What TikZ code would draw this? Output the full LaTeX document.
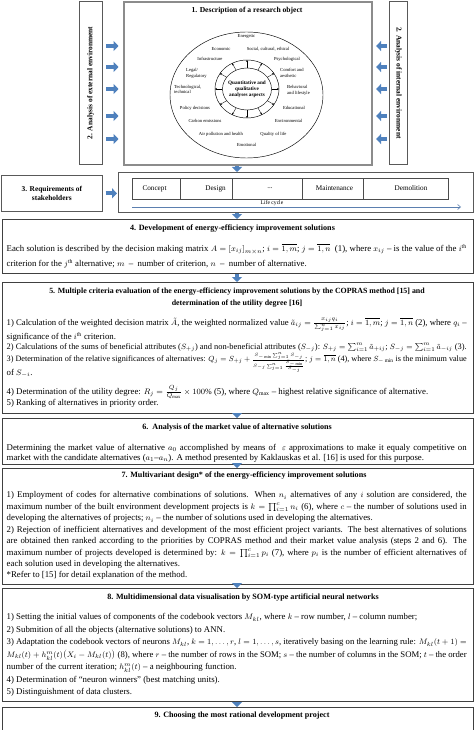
\documentclass[tikz,border=0pt]{standalone}
\usepackage{amsmath}
\usepackage{graphicx}
\usepackage{fontspec}
\setmainfont{Liberation Serif}
\usetikzlibrary{shapes.geometric,arrows.meta,calc}
\definecolor{arrowblue}{HTML}{4F81BD}
\definecolor{lifeblue}{HTML}{5B7FAF}
\definecolor{framegray}{HTML}{8C8C8C}
\DeclareMathSizes{8.8}{8}{5.8}{4.6}
\newcommand{\ttlfont}{\fontsize{8.1}{9}\selectfont\bfseries}
\newcommand{\sidefont}{\fontsize{7.4}{8.5}\selectfont\bfseries}
\newcommand{\bodyfont}{\fontsize{8.8}{9.5}\selectfont}
\newcommand{\aspfont}{\fontsize{4.6}{5.4}\selectfont}
\newsavebox{\fitbox}
\newcommand{\fitline}[1]{\sbox{\fitbox}{#1}\ifdim\wd\fitbox>460pt\relax\resizebox{460pt}{!}{\usebox{\fitbox}}\else\makebox[460pt][s]{#1}\fi}
\tikzset{
  panel/.style={draw=black!75, line width=1.1pt, fill=white, inner sep=0pt, anchor=north west, minimum width=471pt},
  sidebox/.style={draw=black!65, line width=0.7pt, inner sep=0pt, anchor=north west},
  cell/.style={draw=black!70, line width=0.5pt, inner sep=0pt, anchor=north west, minimum height=21pt},
  blockarrow/.style={draw=arrowblue, line width=4pt, -{Triangle[width=10pt,length=5pt]}},
  ttlnode/.style={font=\ttlfont, inner sep=0pt, align=center},
  sidenode/.style={font=\sidefont, inner sep=0pt, align=center},
  txtline/.style={font=\bodyfont, inner sep=0pt, anchor=base west},
  aspect/.style={font=\aspfont, inner sep=0pt, align=center},
  aspectl/.style={font=\aspfont, inner sep=0pt, align=left, anchor=west},
  ringarrow/.style={line width=0.35pt, -{Stealth[length=2.2pt,width=2pt]}},
  lifearrow/.style={draw=lifeblue, line width=0.6pt, -{Straight Barb[length=3pt,width=5pt]}},
}
\begin{document}
\begin{tikzpicture}[x=1pt,y=-1pt]
\useasboundingbox (0,0) rectangle (474,730);
\coordinate (axis) at (237,0);
% ---------- top section ----------
\node[sidebox, minimum width=22.5pt, minimum height=163pt] (extbox) at (79,1) {};
\node[draw=framegray, line width=1.6pt, inner sep=0pt, anchor=north west, minimum width=248pt, minimum height=163pt] (box1) at (123,1) {};
\node[sidebox, minimum width=18pt, minimum height=163pt] (intbox) at (389,1) {};
\node[sidenode, rotate=90] (extlbl) at (extbox.center) {2. Analysis of external environment};
\node[sidenode, rotate=-90] (intlbl) at (intbox.center) {2. Analysis of internal environment};
\node[sidenode, font=\fontsize{7.6}{8.5}\selectfont\bfseries] (t1) at (247,11) {1. Description of a research object};
\foreach \i/\yy in {1/46,2/67,3/89,4/116,5/139}{
  \coordinate (la\i) at (0,\yy);
  \draw[blockarrow, shorten <=4pt, shorten >=4.5pt] (extbox.east |- la\i) -- (box1.west |- la\i);
  \draw[blockarrow, shorten <=2pt, shorten >=3.5pt] (intbox.west |- la\i) -- (box1.east |- la\i);
}
% aspects diagram
\node[draw, ellipse, line width=0.45pt, minimum width=153pt, minimum height=126pt, inner sep=0pt] (outerell) at (246.5,95) {};
\node[draw, ellipse, line width=0.45pt, minimum width=64pt, minimum height=58pt, inner sep=0pt] (ringout) at (247,89) {};
\node[draw, ellipse, line width=0.45pt, minimum width=49pt, minimum height=42pt, inner sep=0pt] (ringin) at (247,89) {};
\foreach \a in {0,30,...,330}{
  \draw[ringarrow] (ringin.\a) -- (ringout.\a);
}
\node[font=\fontsize{5.2}{6.2}\selectfont\bfseries, align=center, inner sep=0pt] (qual) at (247,89) {Quantitative and\\qualitative\\analyses aspects};
\node[aspect] (asp1) at (246.5,36) {Energetic};
\node[aspect] (asp2) at (221,49) {Economic};
\node[aspect] (asp3) at (268,49) {Social, cultural, ethical};
\node[aspect] (asp4) at (210,58.5) {Infrastructure};
\node[aspect] (asp5) at (287,59) {Psychological};
\node[aspectl] (asp6) at (186,73.5) {Legal/\\Regulatory};
\node[aspectl] (asp7) at (280,73) {Comfort and\\aesthetic};
\node[aspectl] (asp8) at (174,89.5) {Technological,\\technical};
\node[aspectl] (asp9) at (287,90.5) {Behavioral\\and lifestyle};
\node[aspect] (asp10) at (195,108) {Policy decisions};
\node[aspect] (asp11) at (294,108) {Educational};
\node[aspect] (asp12) at (205,121) {Carbon emissions};
\node[aspect] (asp13) at (288.5,121) {Environmental};
\node[aspect] (asp14) at (221,134) {Air pollution and health};
\node[aspect] (asp15) at (273.5,134) {Quality of life};
\node[aspect] (asp16) at (246.5,145) {Emotional};
% ---------- row 3 ----------
\node[sidebox, minimum width=101pt, minimum height=36pt] (reqbox) at (1,175) {};
\node[sidenode] (reqlbl) at (reqbox.center) {3. Requirements of\\[1pt]stakeholders};
\node[sidebox, minimum width=354.5pt, minimum height=40pt] (lcbox) at (118,172) {};
\draw[blockarrow, shorten <=3pt, shorten >=1pt] (reqbox.east) -- (reqbox.east -| lcbox.west);
\node[cell, minimum width=48pt] (c1) at (132,178) {};
\node[cell, minimum width=52pt] (c2) at (180,178) {};
\node[cell, minimum width=70pt] (c3) at (232,178) {};
\node[cell, minimum width=61pt] (c4) at (302,178) {};
\node[cell, minimum width=85pt] (c5) at (363,178) {};
\node[font=\fontsize{7.2}{8}\selectfont, inner sep=0pt] (c1l) at (154.5,188.5) {Concept};
\node[font=\fontsize{7.2}{8}\selectfont, inner sep=0pt] (c2l) at (215.5,188.5) {Design};
\node[font=\fontsize{7.2}{8}\selectfont, inner sep=0pt] (c3l) at (270,188.5) {...};
\node[font=\fontsize{7.2}{8}\selectfont, inner sep=0pt] (c4l) at (334.5,188.5) {Maintenance};
\node[font=\fontsize{7.2}{8}\selectfont, inner sep=0pt] (c5l) at (411,188.5) {Demolition};
\node[font=\fontsize{5.6}{6}\selectfont, inner sep=0pt] (lifelbl) at (272,203) {Life cycle};
\coordinate (lcstart) at (132,207);
\coordinate (lcend) at (461,207);
\draw[lifearrow] (lcstart) -- (lcend);
% ---------- panels ----------
\node[panel, minimum height=54pt] (box4) at (1.5,219) {};
\node[panel, minimum height=131pt] (box5) at (1.5,282) {};
\node[panel, minimum height=46pt] (box6) at (1.5,418) {};
\node[panel, minimum height=116pt] (box7) at (1.5,468) {};
\node[panel, minimum height=113pt] (box8) at (1.5,588) {};
\node[panel, minimum height=40pt] (box9) at (1.5,707) {};
% down arrows
\draw[blockarrow, shorten <=0.5pt] (box1.south -| axis) -- (lcbox.north -| axis);
\draw[blockarrow, shorten <=0.3pt] (lcbox.south -| axis) -- (box4.north -| axis);
\draw[blockarrow, shorten <=0.3pt] (box4.south -| axis) -- (box5.north -| axis);
\draw[blockarrow, shorten <=0.3pt] (box5.south -| axis) -- (box6.north -| axis);
\draw[blockarrow, shorten <=0.3pt] (box6.south -| axis) -- (box7.north -| axis);
\draw[blockarrow, shorten <=0.3pt] (box7.south -| axis) -- (box8.north -| axis);
\draw[blockarrow, shorten <=0.3pt] (box8.south -| axis) -- (box9.north -| axis);
% ---------- box 4 ----------
\node[ttlnode] (t4) at (232.5,229) {4. Development of energy-efficiency improvement solutions};
\node[txtline] (l41) at (6.5,251) {\fitline{Each solution is described by the decision making matrix $A=\left[x_{ij}\right]_{m\times n}$; $i=\overline{1,m}$; $j=\overline{1,n}$ \ (1), where $x_{ij}$ -- is the value of the $i^{\mathrm{th}}$}};
\node[txtline] (l42) at (6.5,266) {criterion for the $j^{\mathrm{th}}$ alternative; $m$ \ -- \ number of criterion, $n$ \ -- \ number of alternative.};
% ---------- box 5 ----------
\node[ttlnode, font=\fontsize{7.9}{9}\selectfont\bfseries] (t5a) at (237,292) {5. Multiple criteria evaluation of the energy-efficiency improvement solutions by the COPRAS method [15] and};
\node[ttlnode, font=\fontsize{7.9}{9}\selectfont\bfseries] (t5b) at (237,304) {determination of the utility degree [16]};
\node[txtline] (l51) at (6.5,325) {\fitline{1) Calculation of the weighted decision matrix $\tilde{A}$, the weighted normalized value $\tilde{a}_{ij}=\frac{x_{ij}q_i}{\sum_{j=1}^{n}x_{ij}}$; $i=\overline{1,m}$; $j=\overline{1,n}$ (2), where $q_i$ --}};
\node[txtline] (l52) at (6.5,339) {significance of the $i^{\mathrm{th}}$ criterion.};
\node[txtline] (l53) at (6.5,349) {\fitline{2) Calculations of the sums of beneficial attributes ($S_{+j}$) and non-beneficial attributes ($S_{-j}$): $S_{+j}=\sum_{i=1}^{m}\tilde{a}_{+ij}$; $S_{-j}=\sum_{i=1}^{m}\tilde{a}_{-ij}$ (3).}};
\node[txtline] (l54) at (6.5,361.5) {\fitline{3) Determination of the relative significances of alternatives: $Q_j=S_{+j}+{\scriptstyle\frac{S_{-\min}\sum_{j=1}^{n}S_{-j}}{S_{-j}\sum_{j=1}^{n}\frac{S_{-\min}}{S_{-j}}}}$; $j=\overline{1,n}$ (4), where $S_{-\min}$ is the minimum value}};
\node[txtline] (l55) at (6.5,375.5) {of $S_{-i}$.};
\node[txtline] (l56) at (6.5,394) {4) Determination of the utility degree: $R_j=\frac{Q_j}{Q_{\max}}\times 100\%$ (5), where $Q_{\max}$ -- highest relative significance of alternative.};
\node[txtline] (l57) at (6.5,405) {5) Ranking of alternatives in priority order.};
% ---------- box 6 ----------
\node[ttlnode] (t6) at (237,428) {6.\ \ Analysis of the market value of alternative solutions};
\node[txtline] (l61) at (6.5,450.5) {\fitline{Determining the market value of alternative $a_0$ accomplished by means of \ $\varepsilon$ approximations to make it equaly competitive on}};
\node[txtline] (l62) at (6.5,460.5) {market with the candidate alternatives ($a_1$--$a_n$). A method presented by Kaklauskas et al. [16] is used for this purpose.};
% ---------- box 7 ----------
\node[ttlnode] (t7) at (244,476) {7. Multivariant design* of the energy-efficiency improvement solutions};
\node[txtline] (l71) at (6.5,497.9) {\fitline{1) Employment of codes for alternative combinations of solutions. When $n_i$ alternatives of any $i$ solution are considered, the}};
\node[txtline] (l72) at (6.5,509.3) {\fitline{maximum number of the built environment development projects is $k=\prod_{i=1}^{c}n_i$ (6), where $c$ -- the number of solutions used in}};
\node[txtline] (l73) at (6.5,520.8) {developing the alternatives of projects; $n_i$ -- the number of solutions used in developing the alternatives.};
\node[txtline] (l74) at (6.5,532.2) {\fitline{2) Rejection of inefficient alternatives and development of the most efficient project variants. The best alternatives of solutions}};
\node[txtline] (l75) at (6.5,543.6) {\fitline{are obtained then ranked according to the priorities by COPRAS method and their market value analysis (steps 2 and 6). The}};
\node[txtline] (l76) at (6.5,555) {\fitline{maximum number of projects developed is determined by: $k=\prod_{i=1}^{c}p_i$ (7), where $p_i$ is the number of efficient alternatives of}};
\node[txtline] (l77) at (6.5,566.5) {each solution used in developing the alternatives.};
\node[txtline] (l78) at (6.5,577.9) {*Refer to [15] for detail explanation of the method.};
% ---------- box 8 ----------
\node[ttlnode] (t8) at (243,598) {8. Multidimensional data visualisation by SOM-type artificial neural networks};
\node[txtline] (l81) at (6.5,619.9) {1) Setting the initial values of components of the codebook vectors $M_{kl}$, where $k$ -- row number, $l$ -- column number;};
\node[txtline] (l82) at (6.5,632.4) {2) Submition of all the objects (alternative solutions) to ANN.};
\node[txtline] (l83) at (6.5,644.9) {\fitline{3) Adaptation the codebook vectors of neurons $M_{kl}$, $k=1,\ldots,r$, $l=1,\ldots,s$, iteratively basing on the learning rule: $M_{kl}(t+1)=$}};
\node[txtline] (l84) at (6.5,657.3) {\fitline{$M_{kl}(t)+h_{kl}^{m}(t)\bigl(X_i-M_{kl}(t)\bigr)$ (8), where $r$ -- the number of rows in the SOM; $s$ -- the number of columns in the SOM; $t$ -- the order}};
\node[txtline] (l85) at (6.5,669.8) {number of the current iteration; $h_{kl}^{m}(t)$ -- a neighbouring function.};
\node[txtline] (l86) at (6.5,682.2) {4) Determination of “neuron winners” (best matching units).};
\node[txtline] (l87) at (6.5,694.6) {5) Distinguishment of data clusters.};
% ---------- box 9 ----------
\node[ttlnode] (t9) at (242,716) {9. Choosing the most rational development project};
\end{tikzpicture}
\end{document}
